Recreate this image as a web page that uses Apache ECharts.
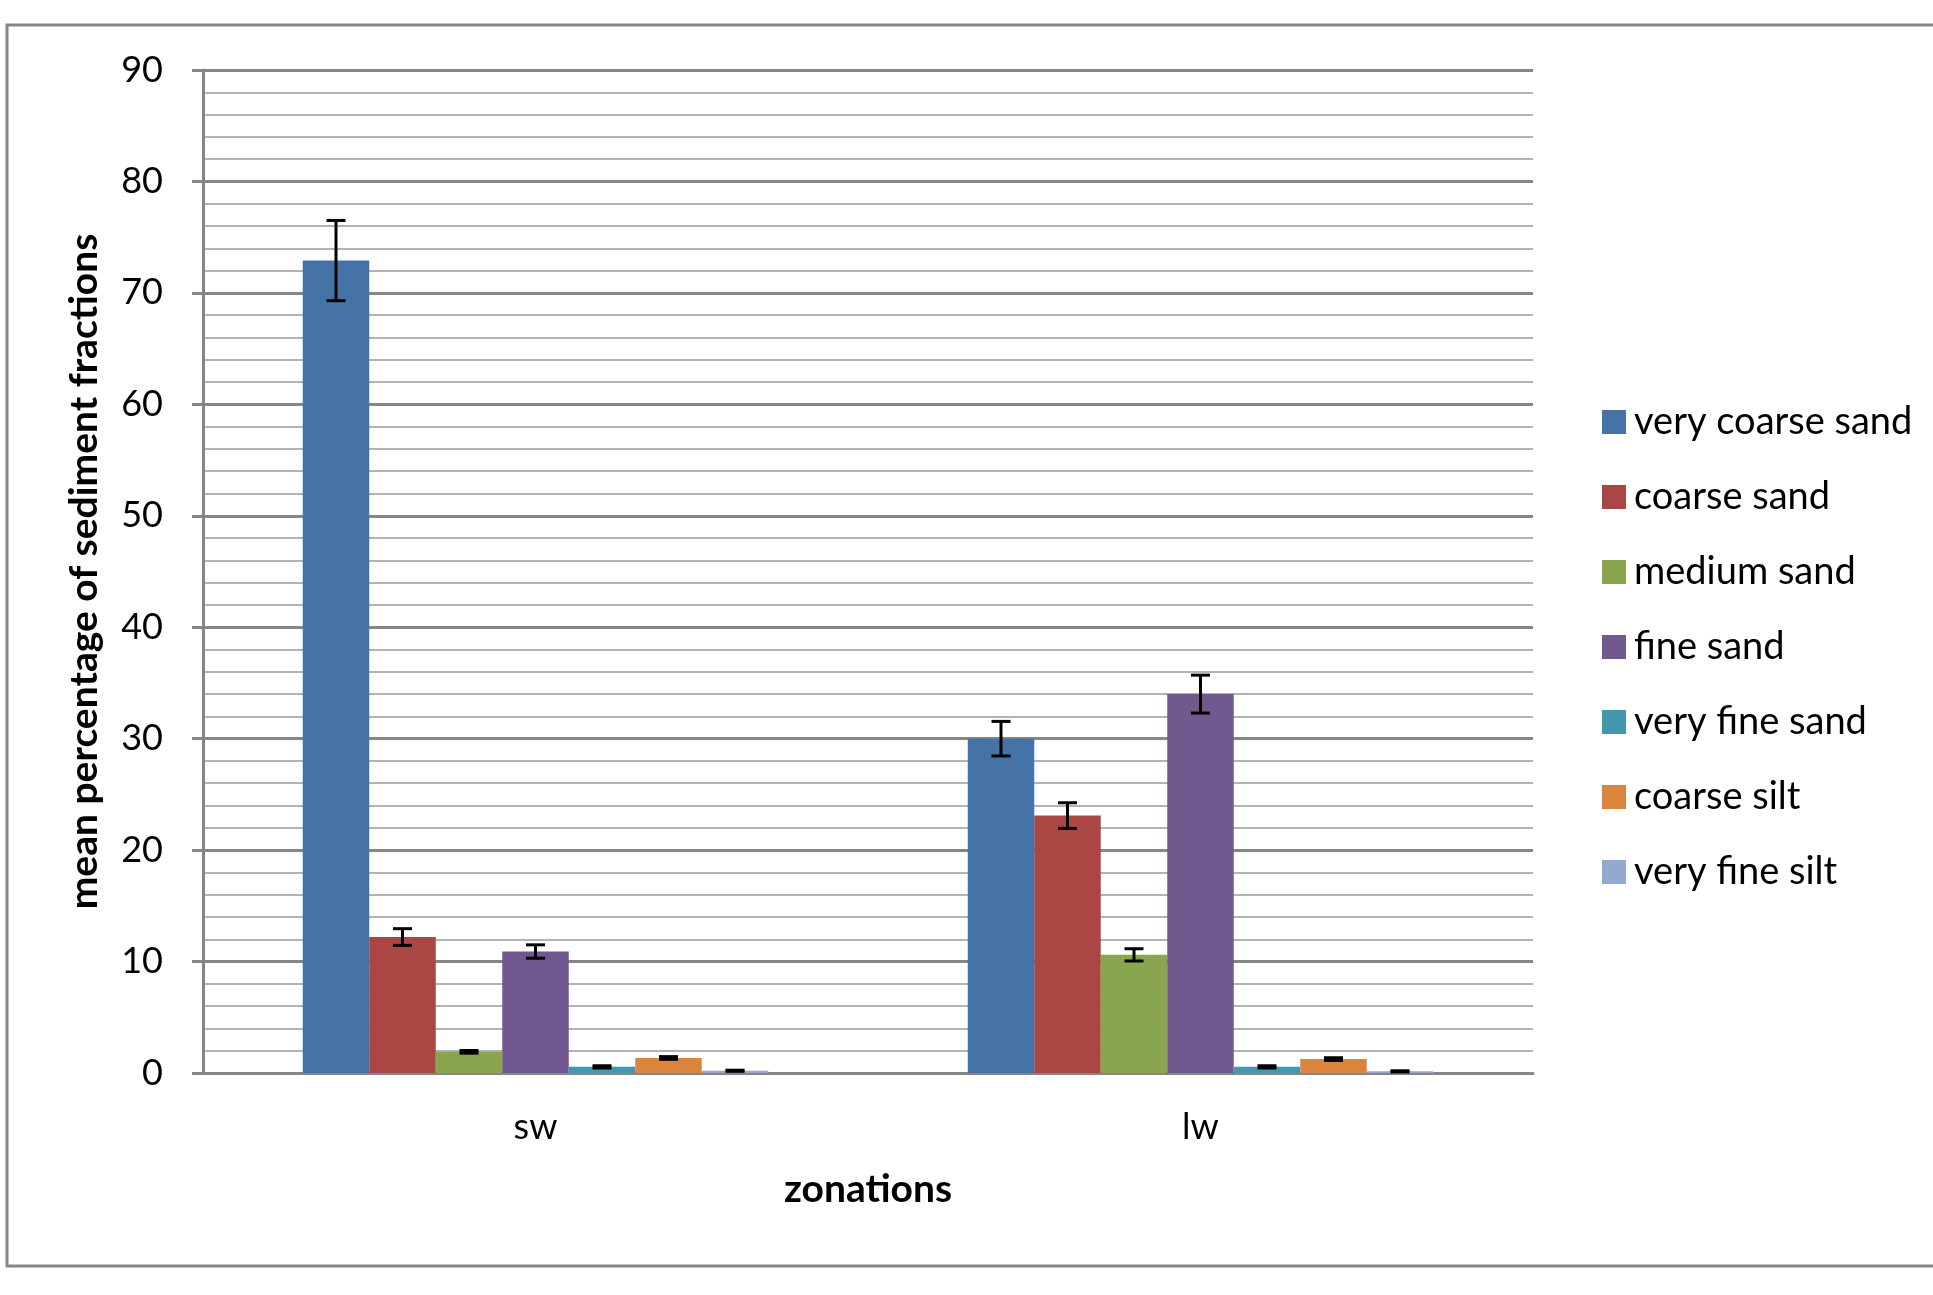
<!DOCTYPE html>
<html>
<head>
<meta charset="utf-8">
<title>sediment fractions</title>
<script src="https://cdn.jsdelivr.net/npm/echarts@6/dist/echarts.min.js"></script>
<style>
  html, body { margin: 0; padding: 0; background: #fff; }
  #main { width: 1933px; height: 1295px; }
</style>
</head>
<body>
<div id="main"></div>
<script>
// categories on the x axis
var zones = ['sw', 'lw'];
// sediment fractions (legend order)
var fractions = ['very coarse sand', 'coarse sand', 'medium sand', 'fine sand', 'very fine sand', 'coarse silt', 'very fine silt'];
// mean % per fraction, [sw, lw]
var veryCoarseSand = [72.9, 30.0];
var coarseSand = [12.2, 23.1];
var mediumSand = [1.9, 10.6];
var fineSand = [10.9, 34.0];
var veryFineSand = [0.55, 0.55];
var coarseSilt = [1.35, 1.25];
var veryFineSilt = [0.2, 0.15];
// error (+/-) per fraction, [sw, lw]
var errVeryCoarseSand = [3.6, 1.55];
var errCoarseSand = [0.75, 1.15];
var errMediumSand = [0.12, 0.55];
var errFineSand = [0.6, 1.7];
var errVeryFineSand = [0.1, 0.1];
var errCoarseSilt = [0.12, 0.12];
var errVeryFineSilt = [0.05, 0.05];
// y axis ticks
var yMin = 0, yMax = 90, yStep = 10;

var colors = ['#4572A7', '#AA4643', '#89A54E', '#71588F', '#4198AF', '#DB843D', '#93A9CF'];
var values = [veryCoarseSand, coarseSand, mediumSand, fineSand, veryFineSand, coarseSilt, veryFineSilt];
var errors = [errVeryCoarseSand, errCoarseSand, errMediumSand, errFineSand, errVeryFineSand, errCoarseSilt, errVeryFineSilt];

var font = 'Lato, "Open Sans", sans-serif';

var series = [];
for (var i = 0; i < fractions.length; i++) {
  series.push({
    name: fractions[i],
    type: 'bar',
    data: values[i],
    itemStyle: { color: colors[i] },
    barGap: '0%',
    barCategoryGap: '30%',
    silent: true
  });
}

// error bars drawn on top of the bars
var errData = [];
for (var s = 0; s < fractions.length; s++) {
  for (var c = 0; c < zones.length; c++) {
    errData.push([c, s, values[s][c], errors[s][c]]);
  }
}
series.push({
  type: 'custom',
  name: 'error',
  silent: true,
  z: 10,
  encode: { x: 0, y: 2 },
  data: errData,
  renderItem: function (params, api) {
    var cat = api.value(0);
    var idx = api.value(1);
    var val = api.value(2);
    var err = api.value(3);
    var center = api.coord([cat, val]);
    var bandW = api.size([1, 0])[0];
    var bw = bandW * 0.7 / fractions.length;
    var x = center[0] + (idx - (fractions.length - 1) / 2) * bw;
    var hi = api.coord([cat, val + err])[1];
    var lo = api.coord([cat, val - err])[1];
    var cap = 9.5;
    var st = { stroke: '#000', lineWidth: 3 };
    return {
      type: 'group',
      children: [
        { type: 'line', shape: { x1: x, y1: hi, x2: x, y2: lo }, style: st },
        { type: 'line', shape: { x1: x - cap, y1: hi, x2: x + cap, y2: hi }, style: st },
        { type: 'line', shape: { x1: x - cap, y1: lo, x2: x + cap, y2: lo }, style: st }
      ]
    };
  }
});

var option = {
  backgroundColor: '#fff',
  animation: false,
  textStyle: { fontFamily: font },
  grid: { left: 203, right: 400, top: 70, bottom: 222, containLabel: false },
  legend: {
    data: fractions,
    orient: 'vertical',
    left: 1597,
    top: 398,
    icon: 'rect',
    itemWidth: 24,
    itemHeight: 24,
    itemGap: 37,
    selectedMode: false,
    textStyle: { fontFamily: font, fontSize: 38, color: '#000', lineHeight: 24, padding: [0, 0, 0, 3] }
  },
  xAxis: {
    type: 'category',
    data: zones,
    name: 'zonations',
    nameLocation: 'middle',
    nameGap: 97,
    nameTextStyle: { fontFamily: font, fontSize: 39, fontWeight: 'bold', color: '#000' },
    axisLine: { lineStyle: { color: '#868686', width: 3 } },
    axisTick: { show: false },
    axisLabel: { fontFamily: font, fontSize: 36, color: '#000', margin: 36 },
    splitLine: { show: false }
  },
  yAxis: {
    type: 'value',
    min: yMin,
    max: yMax,
    interval: yStep,
    name: 'mean percentage of sediment fractions',
    nameLocation: 'middle',
    nameRotate: 90,
    nameGap: 99,
    nameTextStyle: { fontFamily: font, fontSize: 39, fontWeight: 'bold', color: '#000' },
    axisLine: { show: true, lineStyle: { color: '#868686', width: 3 } },
    axisTick: { show: true, inside: false, length: 11, lineStyle: { color: '#868686', width: 3 } },
    minorTick: { show: false, splitNumber: 5 },
    axisLabel: { fontFamily: font, fontSize: 36, color: '#000', margin: 40 },
    splitLine: { show: true, lineStyle: { color: '#868686', width: 3 } },
    minorSplitLine: { show: true, lineStyle: { color: '#b3b3b3', width: 2 } }
  },
  graphic: [{
    type: 'rect',
    silent: true,
    shape: { x: 7, y: 25, width: 1960, height: 1241 },
    style: { fill: 'none', stroke: '#868686', lineWidth: 3 },
    z: -1
  }],
  series: series
};

var chart = echarts.init(document.getElementById('main'));
chart.setOption(option);
</script>
</body>
</html>
